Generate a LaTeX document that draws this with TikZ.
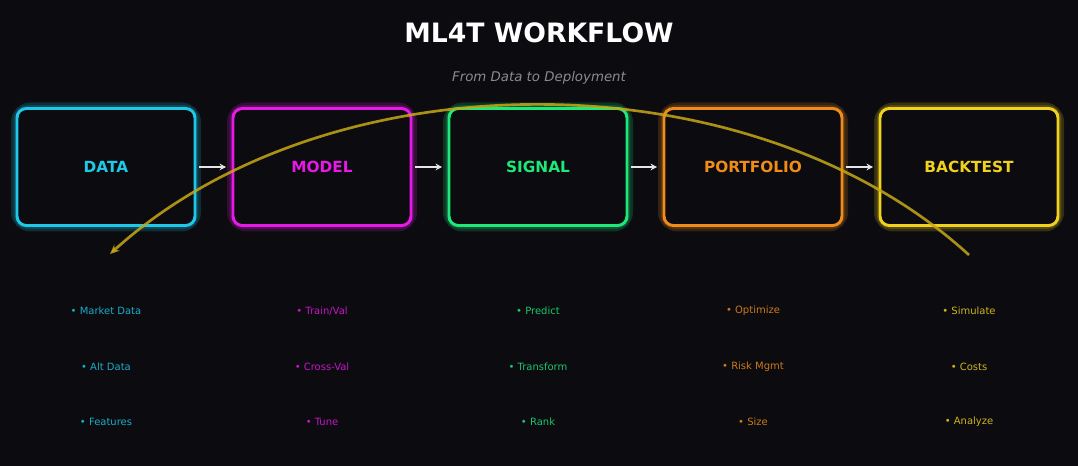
\documentclass[tikz,border=0pt]{standalone}
\usepackage{fontspec}
\setmainfont{DejaVu Sans}
\usetikzlibrary{arrows.meta}
\definecolor{bg}{HTML}{0B0B10}
\definecolor{cA}{HTML}{1EC8E8}
\definecolor{cB}{HTML}{E619E6}
\definecolor{cC}{HTML}{1EE87A}
\definecolor{cD}{HTML}{F08C1A}
\definecolor{cE}{HTML}{F0D21E}
\definecolor{arc}{HTML}{C8A818}
\begin{document}
\begin{tikzpicture}[x=0.75pt,y=-0.75pt,
  stage/.style={draw=#1,line width=2.2pt,rounded corners=7pt,minimum width=178*0.75pt,minimum height=117*0.75pt,fill=bg,text=#1,font=\bfseries\fontsize{11.5}{14}\selectfont},
  glow/.style={draw=#1!18!bg,line width=9pt,rounded corners=10pt,minimum width=178*0.75pt,minimum height=117*0.75pt},
  glowb/.style={draw=#1!32!bg,line width=5pt,rounded corners=8pt,minimum width=178*0.75pt,minimum height=117*0.75pt},
  item/.style={text=#1!85!bg,font=\fontsize{7.5}{9}\selectfont},
  flow/.style={draw=white!90!black,line width=1pt,-{Stealth[length=5pt,width=5pt]}}]
\fill[bg] (0,0) rectangle (1078,466);
\useasboundingbox (0,0) rectangle (1078,466);
\node[text=white,font=\bfseries\fontsize{20}{24}\selectfont] (title) at (539,33) {ML4T WORKFLOW};
\node[text=white!55!black,font=\itshape\fontsize{10}{12}\selectfont] (sub) at (539,78) {From Data to Deployment};
\foreach \n/\x/\c in {1/106/cA,2/322/cB,3/538/cC,4/753/cD,5/969/cE}{
  \node[glow=\c] (g\n) at (\x,167) {};
  \node[glowb=\c] (h\n) at (\x,167) {};}
\node[stage=cA] (data) at (106,167) {DATA};
\node[stage=cB] (model) at (322,167) {MODEL};
\node[stage=cC] (signal) at (538,167) {SIGNAL};
\node[stage=cD] (port) at (753,167) {PORTFOLIO};
\node[stage=cE] (back) at (969,167) {BACKTEST};
\draw[flow] (data.east)++(3,0) -- ([xshift=-4pt]model.west);
\draw[flow] (model.east)++(3,0) -- ([xshift=-4pt]signal.west);
\draw[flow] (signal.east)++(3,0) -- ([xshift=-4pt]port.west);
\draw[flow] (port.east)++(3,0) -- ([xshift=-4pt]back.west);
\coordinate (a1) at (969,255);
\coordinate (a2) at (110,254);
\draw[arc,opacity=0.85,line width=2pt,-{Stealth[length=7pt,width=6pt]}] (a1) .. controls (750,55) and (330,55) .. (a2);
\foreach \x/\c/\a/\b/\d [count=\i] in {106/cA/Market Data/Alt Data/Features,322/cB/{Train/Val}/Cross-Val/Tune,538/cC/Predict/Transform/Rank,753/cD/Optimize/Risk Mgmt/Size,969/cE/Simulate/Costs/Analyze}{
  \node[item=\c] (i\i a) at (\x,311) {• \a};
  \node[item=\c] (i\i b) at (\x,367) {• \b};
  \node[item=\c] (i\i c) at (\x,422) {• \d};
}
\end{tikzpicture}
\end{document}
